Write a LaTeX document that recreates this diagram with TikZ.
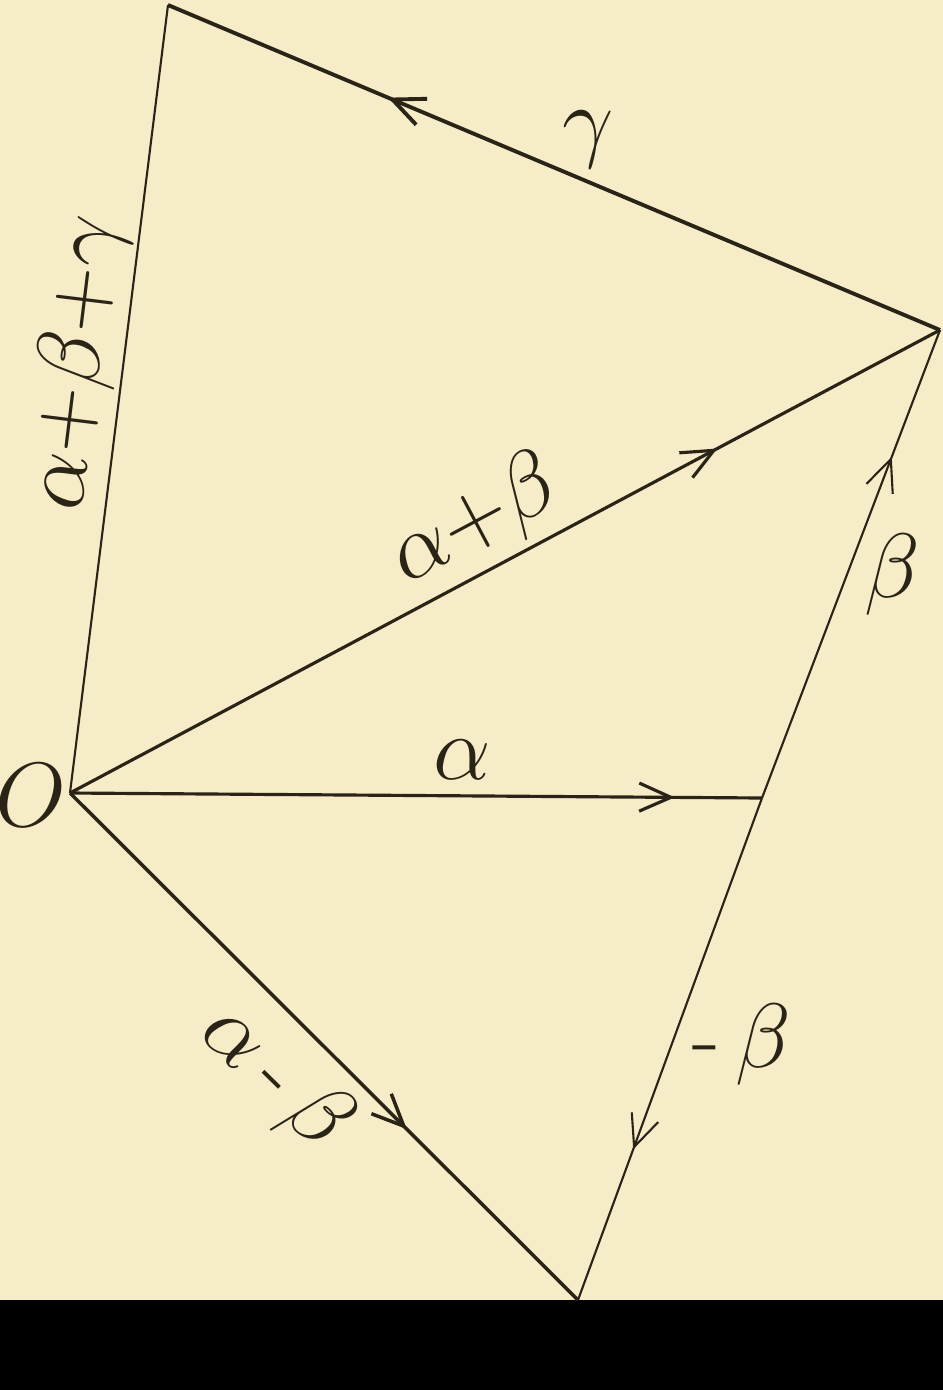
\documentclass[tikz,border=0pt]{standalone}
\usepackage{fix-cm}
\usetikzlibrary{arrows.meta}
\usetikzlibrary{decorations.markings}

\definecolor{paper}{RGB}{246,236,200}
\definecolor{ink}{RGB}{42,36,22}

\begin{document}
\begin{tikzpicture}[x=0.01cm,y=-0.01cm,
	lbl/.style={text=ink,font=\fontsize{26}{30}\selectfont},
	vec/.style={postaction={decorate},decoration={markings,mark=at position #1 with {\arrow{Straight Barb[length=9pt,width=8pt]}}}}]
	\useasboundingbox (0,0) rectangle (943,1390);
	\fill[paper] (0,0) rectangle (943,1300);
	\fill[black] (0,1300) rectangle (943,1390);

	\coordinate (O) at (70,793);
	\coordinate (A) at (762,798);
	\coordinate (B) at (940,330);
	\coordinate (C) at (168,5);
	\coordinate (D) at (578,1300);

	\draw[ink, line width=0.6pt] (O)--(C);
	\draw[ink, line width=1.1pt, vec=0.715] (B)--(C);
	\draw[ink, line width=0.9pt, vec=0.744] (O)--(B);
	\draw[ink, line width=0.9pt, vec=0.874] (O)--(A);
	\draw[ink, line width=0.6pt, vec=0.729] (A)--(B);
	\draw[ink, line width=0.6pt, vec=0.70] (A)--(D);
	\draw[ink, line width=1.0pt, vec=0.663] (O)--(D);

	\node[lbl] (lO) at (31,795) {$O$};
	\node[lbl] (lgam) at (588,140) {$\gamma$};
	\node[lbl, rotate=83] (lsum3) at (77,363) {$\alpha{+}\beta{+}\gamma$};
	\node[lbl, rotate=28] (lsum2) at (475,522) {$\alpha{+}\beta$};
	\node[lbl] (lalp) at (462,760) {$\alpha$};
	\node[lbl] (lbet) at (892,575) {$\beta$};
	\node[lbl] (lneg) at (742,1045) {-\,$\beta$};
	\node[lbl, rotate=-44.5] (ldif) at (275,1078) {$\alpha$\,-\,$\beta$};
\end{tikzpicture}
\end{document}
